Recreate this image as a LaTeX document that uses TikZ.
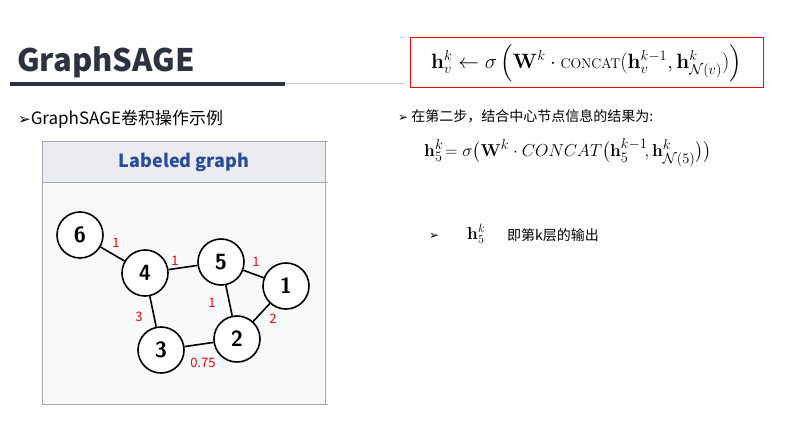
\documentclass[tikz,border=0pt]{standalone}
\usepackage{amsmath}
\usepackage[no-math]{fontspec}
\setmainfont{Noto Sans CJK SC}
\newfontfamily\dejavu{DejaVu Sans}
\newfontfamily\lmr{Latin Modern Roman}
\definecolor{titlec}{HTML}{2B3340}
\definecolor{hdr}{HTML}{EAECF0}
\definecolor{bodyc}{HTML}{F8F9FA}
\definecolor{bordc}{HTML}{A2A9B1}
\definecolor{lblue}{HTML}{2A4B9B}
\tikzset{
 gnode/.style={circle,draw=black,line width=1.6pt,fill=white,minimum size=46pt,inner sep=0pt,font=\fontsize{22}{22}\selectfont\sffamily\bfseries},
 gedge/.style={line width=1.6pt},
 wlab/.style={text=red,font=\fontsize{13}{13}\selectfont},
 bul/.style={anchor=west,inner sep=0pt}
}
\begin{document}
\begin{tikzpicture}[x=1pt,y=-1pt]
\useasboundingbox (0,0) rectangle (798,425);
\fill[white] (0,0) rectangle (798,425);
% title
\node[bul,text=titlec,font=\fontsize{31}{31}\selectfont\bfseries] (title) at (17,62) {GraphSAGE};
\fill[titlec] (10,82) rectangle (285,86);
\draw[gray!40,line width=0.6pt] (285,83) -- (405,83);
% formula box
\node[draw=red,line width=1pt,minimum width=353pt,minimum height=50pt,inner sep=0pt] (fbox) at (586.5,63)
 {\fontsize{20}{20}\selectfont$\mathbf{h}_v^k \leftarrow \sigma\left(\mathbf{W}^k\cdot\text{\lmr\fontsize{14}{14}\selectfont CONCAT}(\mathbf{h}_v^{k-1},\mathbf{h}^k_{\mathcal{N}(v)})\right)$};
% bullets
\node[bul,font=\fontsize{17}{17}\selectfont] (b1) at (18,119) {{\dejavu\fontsize{15}{15}\selectfont ➢}GraphSAGE卷积操作示例};
\node[bul,font=\fontsize{14}{14}\selectfont] (b2) at (398,116) {{\dejavu\fontsize{12}{12}\selectfont ➢} 在第二步，结合中心节点信息的结果为:};
\node[bul] (f2) at (424,153) {\fontsize{19}{19}\selectfont$\mathbf{h}_5^k\!=\sigma\big(\mathbf{W}^k\cdot CONCAT\big(\mathbf{h}_5^{k-1}\!,\mathbf{h}^k_{\mathcal{N}(5)}\big)\big)$};
\node[bul,font=\fontsize{12}{12}\selectfont\dejavu] (b3) at (429,236) {➢};
\node[bul] (h5) at (467,234) {\fontsize{17}{17}\selectfont$\mathbf{h}_5^k$};
\node[bul,font=\fontsize{14}{14}\selectfont] (b3t) at (507,235) {即第k层的输出};
% panel
\fill[bodyc] (42,182) rectangle (326,404);
\fill[hdr] (42,142) rectangle (326,182);
\draw[bordc,line width=1pt] (328,404) -- (42,404) -- (42,142) -- (328,142);
\draw[bordc,line width=1pt] (42,182) -- (328,182);
\draw[bordc,line width=1pt] (325,142) -- (325,404);
\node[text=lblue,font=\fontsize{18}{18}\selectfont\bfseries] (hdrt) at (184,162) {Labeled graph};
% graph
\node[gnode] (n6) at (80,235) {6};
\node[gnode] (n4) at (145,273) {4};
\node[gnode] (n5) at (221,262) {5};
\node[gnode] (n1) at (286,286) {1};
\node[gnode] (n2) at (237,339) {2};
\node[gnode] (n3) at (161,350) {3};
\draw[gedge] (n6) -- (n4);
\draw[gedge] (n4) -- (n5);
\draw[gedge] (n5) -- (n1);
\draw[gedge] (n5) -- (n2);
\draw[gedge] (n1) -- (n2);
\draw[gedge] (n4) -- (n3);
\draw[gedge] (n3) -- (n2);
\node[wlab] (w64) at (116,243) {1};
\node[wlab] (w45) at (175,261) {1};
\node[wlab] (w51) at (256,262) {1};
\node[wlab] (w52) at (212,303) {1};
\node[wlab] (w12) at (273,319) {2};
\node[wlab] (w43) at (139,317) {3};
\node[wlab] (w32) at (203,363) {0.75};
\end{tikzpicture}
\end{document}
